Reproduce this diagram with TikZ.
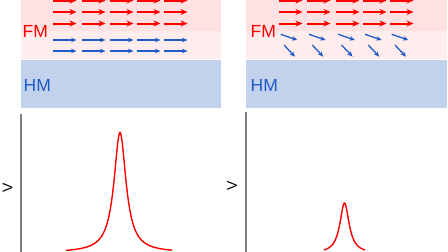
\documentclass[tikz,border=0pt]{standalone}
\usepackage{fontspec}
\setmainfont{Liberation Sans}
\usetikzlibrary{arrows.meta}
\definecolor{pinkA}{RGB}{255,225,225}
\definecolor{pinkB}{RGB}{255,237,237}
\definecolor{hmblue}{RGB}{195,210,236}
\definecolor{arrblue}{RGB}{30,90,200}
\definecolor{axisgray}{RGB}{128,128,128}
\tikzset{
  redarr/.style={red, line width=2pt, -{Stealth[length=7pt,width=6pt]}},
  bluearr/.style={arrblue, line width=1.3pt, -{Stealth[length=5.5pt,width=4.5pt]}},
  lbl/.style={font=\fontsize{17.5}{18}\selectfont, inner sep=0pt, anchor=west},
  vlbl/.style={font=\fontsize{14}{15}\selectfont, inner sep=0pt, rotate=90},
  axisline/.style={axisgray, line width=1.3pt},
  peak/.style={red, line width=1.4pt}
}
\begin{document}
\begin{tikzpicture}[x=1pt,y=-1pt]
\useasboundingbox (0,0) rectangle (448,252);
\fill[white] (0,0) rectangle (448,252);
% left panel layers
\fill[pinkA] (21,0) rectangle (221,31);
\fill[pinkB] (21,31) rectangle (221,58.5);
\fill[hmblue] (21,59.5) rectangle (221,108);
% right panel layers
\fill[pinkA] (246,0) rectangle (447,31);
\fill[pinkB] (246,31) rectangle (447,58.5);
\fill[hmblue] (246,59.5) rectangle (447,108);
% labels
\node[lbl, text=red] (fmL) at (22.5,31) {FM};
\node[lbl, text=arrblue] (hmL) at (23.5,85) {HM};
\node[lbl, text=red] (fmR) at (250.5,31) {FM};
\node[lbl, text=arrblue] (hmR) at (250.5,85) {HM};
% left arrows
\foreach \x in {53,82,110,137,164}{
  \foreach \y in {0.5,12,23.5}{
    \draw[redarr] (\x,\y) -- ++(23.5,0);
  }
  \foreach \y in {40,51}{
    \draw[bluearr] (\x,\y) -- ++(23.5,0);
  }
}
% right arrows
\foreach \x in {279,307,336,363,390}{
  \foreach \y in {0.5,12,23.5}{
    \draw[redarr] (\x,\y) -- ++(23.5,0);
  }
}
\foreach \x in {280.7,309,338.3,365,391.7}{
  \draw[bluearr] (\x,34.3) -- ++(16.7,5.8);
  \draw[bluearr] (\x+3.3,45) -- ++(11,11.7);
}
% axes
\coordinate (aLt) at (21,114);
\coordinate (aLb) at (21,253);
\coordinate (aRt) at (246,111.5);
\coordinate (aRb) at (246,253);
\draw[axisline] (aLt) -- (aLb);
\draw[axisline] (aRt) -- (aRb);
\node[vlbl] (vL) at (7.5,188) {V};
\node[vlbl] (vR) at (232,185.5) {V};
% peaks
\draw[peak, domain=66:172, samples=240, smooth] plot (\x, {252.5 - 120/(1+((\x-120)/7.3)^2)});
\draw[peak, domain=324:365, samples=160, smooth] plot (\x, {253.5 - 50.5/(1+((\x-344.5)/5.6)^2)});
\end{tikzpicture}
\end{document}
